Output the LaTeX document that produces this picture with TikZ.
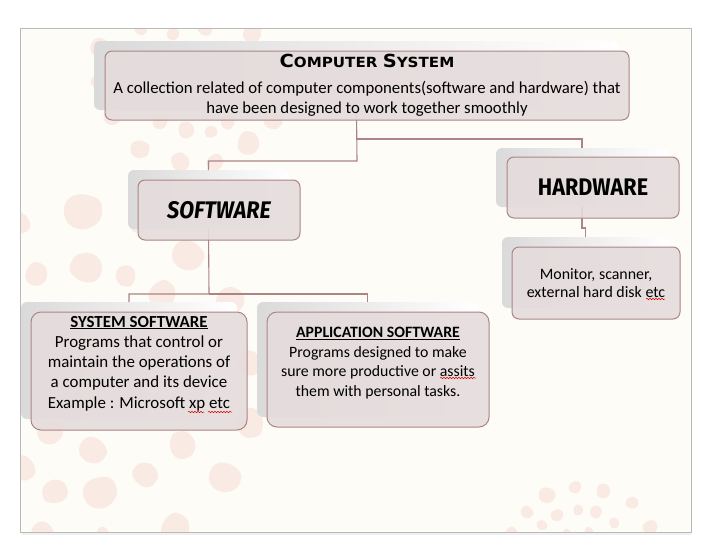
\documentclass[tikz,border=0pt]{standalone}
\usepackage{fontspec}
\setmainfont{Carlito}
\newfontfamily\titlefont[FakeStretch=1.08]{DejaVu Sans}
\newfontfamily\headfont[FakeStretch=0.9]{Fira Sans}
\usetikzlibrary{positioning}
\usetikzlibrary{calc}
\usetikzlibrary{decorations.pathmorphing}
\definecolor{pagefill}{HTML}{FDFCF7}
\definecolor{blobfill}{HTML}{F9EBE4}
\definecolor{boxfill}{HTML}{E5DCDC}
\definecolor{boxline}{HTML}{AD8486}
\definecolor{shadegray}{HTML}{DADADA}
\tikzset{
	backbox/.style={rounded corners=6pt,inner sep=0pt,outer sep=0pt,left color=shadegray,right color=white},
	frontbox/.style={draw=boxline,line width=1pt,fill=boxfill,fill opacity=0.9,text opacity=1,rounded corners=7pt,inner sep=0pt,align=center},
	linkline/.style={draw=boxline,line width=1.1pt},
	squiggle/.style={draw=red!85!black,line width=0.5pt,decorate,decoration={snake,segment length=3pt,amplitude=0.7pt}},
}
\begin{document}
\begin{tikzpicture}[x=1pt,y=-1pt]
	\useasboundingbox (0,0) rectangle (708,549);
	% page and its dots
	\fill[gray!12] (22,532) rectangle (691,535);
	\fill[pagefill] (20,28) rectangle (691,532);
	\begin{scope}
		\clip (20,28) rectangle (691,532);
		\foreach \px/\py/\rad/\rot in {101/48/10/20,141/29/6/0,173/34/6/60,205/29/7/200,252/33/9/110,97/82/6/0,112/117/8/30,160/122/7/80,186/130/8/150,211/132/6/250,140/149/9/40,228/122/7/300,248/143/11/130,273/120/9/10,180/162/9/170,215/162/8/90,83/211/18/50,20/223/10/0,36/274/11/120,86/268/15/210,126/276/10/320,188/255/15/20,162/294/13/100,230/302/14/280,138/225/8/0,50/432/12/60,93/450/13/15,182/445/13/150,23/468/12/0,55/492/12/240,100/492/16/70,145/475/12/190,225/477/15/30,175/528/14/115,43/533/11/0,250/423/14/330,250/363/12/0,103/533/6/0,547/495/8/40,575/487/6/90,603/491/7/140,632/503/6/220,527/512/6/10,557/515/6/70,578/510/5/130,596/512/6/300,542/525/5/20,614/523/5/160,650/527/7/80,512/533/6/0,567/533/4/0,589/531/4/0}
			\fill[blobfill,rotate around={\rot:(\px,\py)}] plot[smooth cycle,tension=0.8] coordinates {(\px+\rad,\py) (\px+0.7*\rad,\py+0.8*\rad) (\px-0.2*\rad,\py+\rad) (\px-\rad,\py+0.3*\rad) (\px-0.8*\rad,\py-0.7*\rad) (\px+0.2*\rad,\py-\rad)};
	\end{scope}
	\draw[gray!55,line width=0.8pt] (20,28) rectangle (691,532);
	% boxes behind
	\node[backbox,left color=shadegray,middle color=white,right color=white,minimum width=525pt,minimum height=69pt] (topback) at (356.5,75.5) {};
	\node[backbox,minimum width=161pt,minimum height=59pt] (softback) at (208.5,199.5) {};
	\node[backbox,minimum width=172pt,minimum height=59pt] (hardback) at (582,177.5) {};
	\node[backbox,minimum width=167pt,minimum height=71pt] (monback) at (585.5,272.5) {};
	\node[backbox,minimum width=216pt,minimum height=117pt] (sysback) at (129,360.5) {};
	\node[backbox,minimum width=221pt,minimum height=115pt] (appback) at (367.5,359.5) {};
	% connectors
	\coordinate (busA) at (357,161);
	\coordinate (busB) at (357,139);
	\coordinate (busC) at (582,228);
	\coordinate (busD) at (209,294);
	\draw[linkline] (topback.south) -- (busA) -| (softback.north);
	\draw[linkline] (busB) -| (hardback.north);
	\draw[linkline] (hardback.south) -- (busC) -| (monback.north);
	\draw[linkline] (softback.south) -- (busD) -| (sysback.north);
	\draw[linkline] (busD) -| (appback.north);
	% boxes in front
	\node[frontbox,minimum width=524pt,minimum height=69pt,font=\fontsize{16.75}{20}\selectfont] (top) at (367,85.5) {{\titlefont\bfseries\fontsize{18}{20}\selectfont C\fontsize{14}{20}\selectfont OMPUTER \fontsize{18}{20}\selectfont S\fontsize{14}{20}\selectfont YSTEM}\\[6pt]A collection related of computer components(software and hardware) that\\have been designed to work together smoothly};
	\node[frontbox,minimum width=162pt,minimum height=60pt,font=\headfont\bfseries\itshape\fontsize{24}{28}\selectfont] (soft) at (219,210) {SOFTWARE};
	\node[frontbox,minimum width=172pt,minimum height=61pt,font=\headfont\bfseries\fontsize{24}{28}\selectfont] (hard) at (593,187.5) {HARDWARE};
	\node[frontbox,minimum width=168pt,minimum height=72pt,font=\fontsize{15.9}{18}\selectfont] (mon) at (596,283) {Monitor, scanner,\\external hard disk etc};
	\node[frontbox,rounded corners=10pt,minimum width=216pt,minimum height=118pt][label={[yshift=7.5pt,align=center,font=\fontsize{16.9}{20.3}\selectfont]center:{\textbf{\underline{SYSTEM SOFTWARE}}\\Programs that control or\\maintain the operations of\\a computer and its device\\Example : Microsoft xp etc}}] (sys) at (139,371) {};
	\node[frontbox,rounded corners=10pt,minimum width=222pt,minimum height=115pt][label={[yshift=6.5pt,align=center,font=\fontsize{15.8}{19.5}\selectfont]center:{\textbf{\underline{APPLICATION SOFTWARE}}\\Programs designed to make\\sure more productive or assits\\them with personal tasks.}}] (app) at (378,369.5) {};
	% spell check marks
	\draw[squiggle] (188,412) -- (204,412);
	\draw[squiggle] (208,412) -- (232,412);
	\draw[squiggle] (440,378) -- (476,378);
	\draw[squiggle] (646,299) -- (665,299);
\end{tikzpicture}
\end{document}
